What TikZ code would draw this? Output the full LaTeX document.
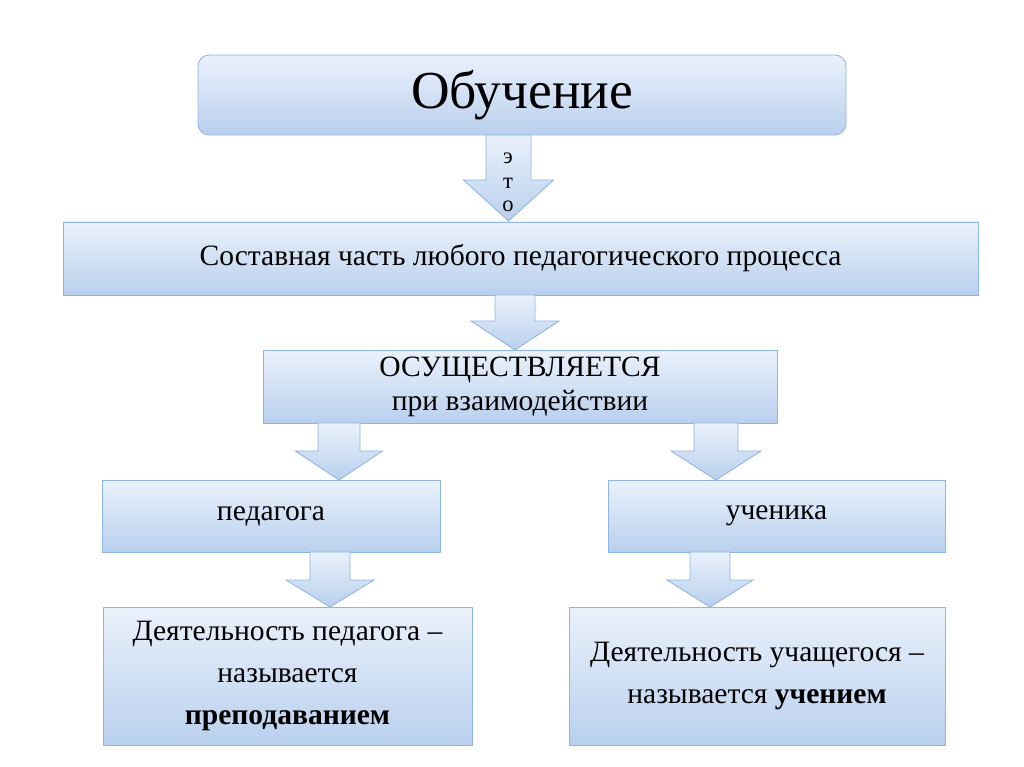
\documentclass[tikz,border=0pt]{standalone}
\usepackage{fontspec}
\setmainfont{Liberation Serif}
\usetikzlibrary{positioning}

\definecolor{boxtop}{HTML}{EAF1FB}
\definecolor{boxbot}{HTML}{B9D0EE}
\definecolor{boxline}{HTML}{8EB4E3}

\newcommand{\blockarrow}[6]{% center x, top y, shaft end y, tip y, half shaft, half head
  \path[arrowshape] (#1-#5,#2) -- (#1+#5,#2) -- (#1+#5,#3) -- (#1+#6,#3)
    -- (#1,#4) -- (#1-#6,#3) -- (#1-#5,#3) -- cycle;
}

\begin{document}
\begin{tikzpicture}[
    x=0.025cm, y=-0.025cm,
    block/.style={draw=boxline, line width=0.6pt, top color=boxtop,
        bottom color=boxbot, align=center, inner sep=0pt},
    arrowshape/.style={draw=boxline, line width=0.6pt, top color=boxtop,
        bottom color=boxbot}
]
    \useasboundingbox[fill=white] (0,0) rectangle (1024,767);

    % Boxes ------------------------------------------------------

    \node[block, rounded corners=8pt, minimum width=648*0.025cm,
        minimum height=80*0.025cm, font=\fontsize{38}{40}\selectfont]
        (learn) at (522,95) {Обучение};
    \node[block, minimum width=915*0.025cm, minimum height=73*0.025cm,
        font=\fontsize{21}{24}\selectfont]
        (part) at (520.5,258.5) {Составная часть любого педагогического процесса};
    \node[block, minimum width=514*0.025cm, minimum height=73*0.025cm,
        font=\fontsize{21}{24}\selectfont]
        (done) at (520,386.5) {ОСУЩЕСТВЛЯЕТСЯ\\при взаимодействии};
    \node[block, minimum width=338*0.025cm, minimum height=72*0.025cm,
        font=\fontsize{21}{24}\selectfont]
        (teacher) at (271,516) {педагога};
    \node[block, minimum width=337*0.025cm, minimum height=72*0.025cm,
        font=\fontsize{21}{24}\selectfont]
        (pupil) at (776.5,516) {ученика};
    \node[block, minimum width=369*0.025cm, minimum height=138*0.025cm,
        font=\fontsize{21}{30}\selectfont]
        (teaching) at (287.5,676) {Деятельность педагога –\\называется\\\textbf{преподаванием}};
    \node[block, minimum width=376*0.025cm, minimum height=138*0.025cm,
        font=\fontsize{21}{30}\selectfont]
        (study) at (757,676) {Деятельность учащегося –\\называется \textbf{учением}};

    % Arrows ---------------------------------------------------

    \blockarrow{508.5}{135}{180}{221}{22.5}{45}
    \node[font=\fontsize{16}{16}\selectfont] (eto1) at (508,158) {э};
    \node[font=\fontsize{16}{16}\selectfont] (eto2) at (508,183) {т};
    \node[font=\fontsize{16}{16}\selectfont] (eto3) at (508,206) {о};
    \blockarrow{515}{295}{321}{350}{20}{44}
    \blockarrow{339}{423}{451}{480}{21}{43.5}
    \blockarrow{716}{423}{451}{480}{22}{45}
    \blockarrow{330}{552}{580}{607}{20}{44}
    \blockarrow{710}{552}{580}{607}{20}{43}

\end{tikzpicture}
\end{document}
